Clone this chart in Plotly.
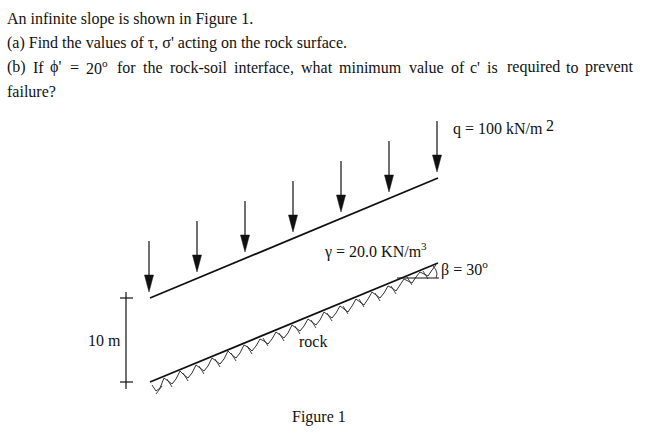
import plotly.graph_objects as go


SERIF = "Liberation Serif"
BLACK = "#111111"

# (x, y, text) for the question text, line (b) is justified word by word
question_lines = [
    (7, 19, "An infinite slope is shown in Figure 1."),
    (7, 43, "(a) Find the values of τ, σ' acting on the rock surface."),
    (7, 91, "failure?"),
]
line_b_words = ["(b)", "If", "ϕ'", "=", "20<sup>o</sup>", "for", "the", "rock-soil", "interface,",
                "what", "minimum", "value", "of", "c'", "is", "required", "to", "prevent"]
line_b_x = [7, 33, 50, 70, 86, 117, 143, 170, 234, 301, 339, 409, 451, 470, 487, 507, 566, 585]
line_b_y = 67

# load arrows
arrow_x = [149, 197, 245, 293, 341, 389, 437]
arrow_top = [241, 221, 201, 181, 161, 141, 121]
arrow_tip = [292, 272, 252, 232, 212, 192, 172]

slope_x = [150, 438]
slope_y = [298, 178]

rock_x = [150, 438]
rock_y = [382, 263]

angle_base_x = [397, 439]
angle_base_y = [278, 278]
angle_arc_x = [433, 436, 437, 436]
angle_arc_y = [266, 270, 274, 278]

# rough squiggle under the rock surface
hatch_x = [152, 156, 160, 164, 168, 172, 176, 180, 184, 188, 192, 196, 200, 204, 208, 212, 216,
           220, 224, 228, 232, 236, 240, 244, 248, 252, 256, 260, 264, 268, 272, 276, 280, 284,
           288, 292, 296, 300, 304, 308, 312, 316, 320, 324, 328, 332, 336, 340, 344, 348, 352,
           356, 360, 364, 368, 372, 376, 380, 384, 388, 392, 396, 400, 404, 408, 412, 416, 420,
           424, 428, 432, 436]
hatch_y = [385, 391, 388, 378, 381, 384, 379, 371, 375, 378, 373, 365, 368, 371, 366, 358, 361,
           364, 359, 351, 355, 358, 353, 345, 347, 351, 346, 339, 341, 344, 339, 332, 335, 338,
           333, 325, 328, 331, 326, 319, 322, 325, 320, 312, 315, 318, 313, 306, 309, 312, 306,
           299, 302, 305, 299, 292, 295, 298, 293, 286, 288, 291, 285, 279, 281, 283, 277, 272,
           274, 276, 270, 265]

# short cross strokes on the squiggle, None breaks the line
tick_x = [156, 162, None, 172, 167, None, 188, 183, None, 204, 199, None, 220, 215, None,
          236, 231, None, 252, 247, None, 268, 263, None, 284, 279, None, 300, 295, None,
          316, 311, None, 332, 327, None, 348, 343, None, 364, 359, None, 380, 375, None,
          396, 391, None, 412, 407, None, 428, 423]
tick_y = [394, 386, None, 387, 379, None, 381, 373, None, 374, 366, None, 367, 359, None,
          361, 353, None, 354, 346, None, 346, 338, None, 341, 333, None, 334, 326, None,
          328, 320, None, 321, 313, None, 314, 306, None, 307, 299, None, 301, 293, None,
          294, 286, None, 285, 277, None, 279, 271]

# 10 m dimension
dim_x = 126
dim_top = 292
dim_bottom = 389
dim_ticks_y = [298, 382]
dim_tick_x = [120, 133]

labels = [
    (453, 129, "q = 100 kN/m"),
    (546, 125, "2"),
    (324, 250, "γ = 20.0 KN/m<sup>3</sup>"),
    (441, 268, "β = 30<sup>o</sup>"),
    (299, 341, "rock"),
    (88, 340, "10 m"),
    (292, 417, "Figure 1"),
]


def line(x, y, width=1.4, color=BLACK):
    return go.Scatter(x=x, y=y, mode="lines", line=dict(color=color, width=width),
                      hoverinfo="skip", showlegend=False)


fig = go.Figure()

fig.add_trace(line(hatch_x, hatch_y, width=1.0, color="#333333"))
fig.add_trace(line(tick_x, tick_y, width=0.9, color="#333333"))
fig.add_trace(line(rock_x, rock_y, width=1.8))
fig.add_trace(line(slope_x, slope_y, width=1.8))
fig.add_trace(line(angle_base_x, angle_base_y, width=1.2))
fig.add_trace(line(angle_arc_x, angle_arc_y, width=0.8))

for x, top, tip in zip(arrow_x, arrow_top, arrow_tip):
    fig.add_trace(line([x, x], [top, tip - 12], width=1.2))
    fig.add_trace(go.Scatter(x=[x - 4.5, x + 4.5, x, x - 4.5],
                             y=[tip - 17, tip - 17, tip, tip - 17],
                             mode="lines", fill="toself", fillcolor=BLACK,
                             line=dict(color=BLACK, width=0.5),
                             hoverinfo="skip", showlegend=False))

fig.add_trace(line([dim_x, dim_x], [dim_top, dim_bottom], width=1.2))
for tick_y_pos in dim_ticks_y:
    fig.add_trace(line(dim_tick_x, [tick_y_pos, tick_y_pos], width=1.2))

text_items = list(question_lines)
text_items += [(x, line_b_y, word) for x, word in zip(line_b_x, line_b_words)]
text_items += labels

for x, y, text in text_items:
    fig.add_annotation(x=x, y=y, text=text, xanchor="left", yanchor="middle", showarrow=False,
                       borderpad=0, borderwidth=0,
                       font=dict(family=SERIF, size=16, color=BLACK))

fig.update_layout(
    width=649,
    height=441,
    margin=dict(l=0, r=0, t=0, b=0),
    paper_bgcolor="white",
    plot_bgcolor="white",
    showlegend=False,
    xaxis=dict(range=[0, 649], visible=False, fixedrange=True),
    yaxis=dict(range=[441, 0], visible=False, fixedrange=True),
)

# page has a default body margin, drop it so the figure sits at 0,0
fig.write_html("out.html", config={"displayModeBar": False},
               post_script="document.body.style.margin='0';")
